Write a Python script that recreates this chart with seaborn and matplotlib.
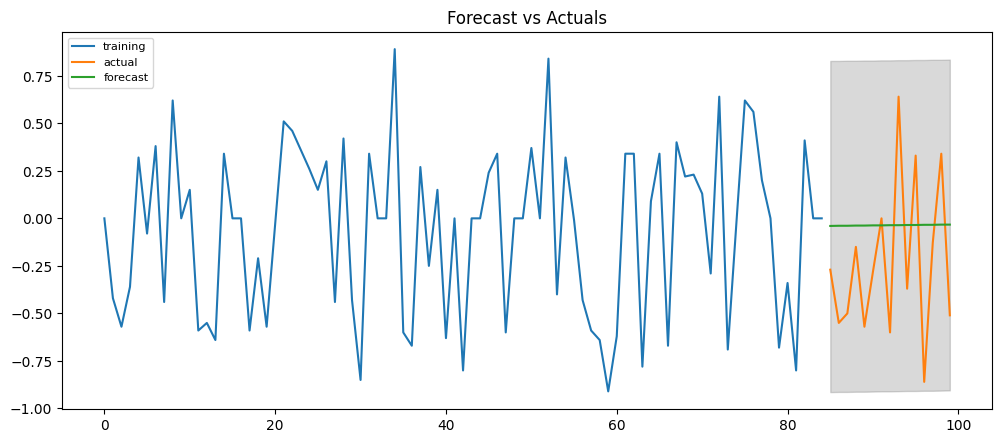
import numpy as np
import pandas as pd
import matplotlib
matplotlib.use('Agg')
import matplotlib.pyplot as plt
import seaborn as sns

# training series, index 0..84
train_values = [
    0.00, -0.42, -0.57, -0.36, 0.32, -0.08, 0.38, -0.44, 0.62, 0.00,
    0.15, -0.59, -0.55, -0.64, 0.34, 0.00, 0.00, -0.59, -0.21, -0.57,
    -0.03, 0.51, 0.46, 0.36, 0.26, 0.15, 0.30, -0.44, 0.42, -0.43,
    -0.85, 0.34, 0.00, 0.00, 0.89, -0.60, -0.67, 0.27, -0.25, 0.15,
    -0.63, 0.00, -0.80, 0.00, 0.00, 0.24, 0.34, -0.60, 0.00, 0.00,
    0.37, 0.00, 0.84, -0.40, 0.32, -0.01, -0.43, -0.59, -0.64, -0.91,
    -0.62, 0.34, 0.34, -0.78, 0.09, 0.34, -0.67, 0.40, 0.22, 0.23,
    0.13, -0.29, 0.64, -0.69, -0.03, 0.62, 0.56, 0.20, 0.00, -0.68,
    -0.34, -0.80, 0.41, 0.00, 0.00,
]
train_index = list(range(0, 85))

# test period, index 85..99
test_index = list(range(85, 100))
actual_values = [
    -0.27, -0.55, -0.50, -0.15, -0.57, -0.28, 0.00, -0.60, 0.64, -0.37,
    0.33, -0.86, -0.13, 0.34, -0.51,
]
forecast_values = [
    -0.040, -0.039, -0.039, -0.038, -0.038, -0.037, -0.037, -0.036,
    -0.036, -0.035, -0.035, -0.034, -0.034, -0.033, -0.033,
]
lower_values = [
    -0.914, -0.913, -0.913, -0.912, -0.912, -0.911, -0.910, -0.910,
    -0.909, -0.908, -0.908, -0.907, -0.907, -0.906, -0.905,
]
upper_values = [
    0.828, 0.828, 0.829, 0.829, 0.830, 0.830, 0.831, 0.831,
    0.832, 0.832, 0.833, 0.833, 0.834, 0.834, 0.835,
]

train = pd.Series(train_values, index=train_index)
actual = pd.Series(actual_values, index=test_index)
forecast = pd.Series(forecast_values, index=test_index)
lower = pd.Series(lower_values, index=test_index)
upper = pd.Series(upper_values, index=test_index)

plt.figure(figsize=(12, 4.9), dpi=100)
ax = sns.lineplot(x=train.index, y=train.values, label='training')
sns.lineplot(x=actual.index, y=actual.values, label='actual', ax=ax)
sns.lineplot(x=forecast.index, y=forecast.values, label='forecast', ax=ax)
ax.fill_between(lower.index, lower.values, upper.values, color='k', alpha=.15)
ax.set_xlabel('')
ax.set_ylabel('')
plt.title('Forecast vs Actuals')
plt.legend(loc='upper left', fontsize=8)
plt.savefig('out.png', bbox_inches='tight')
